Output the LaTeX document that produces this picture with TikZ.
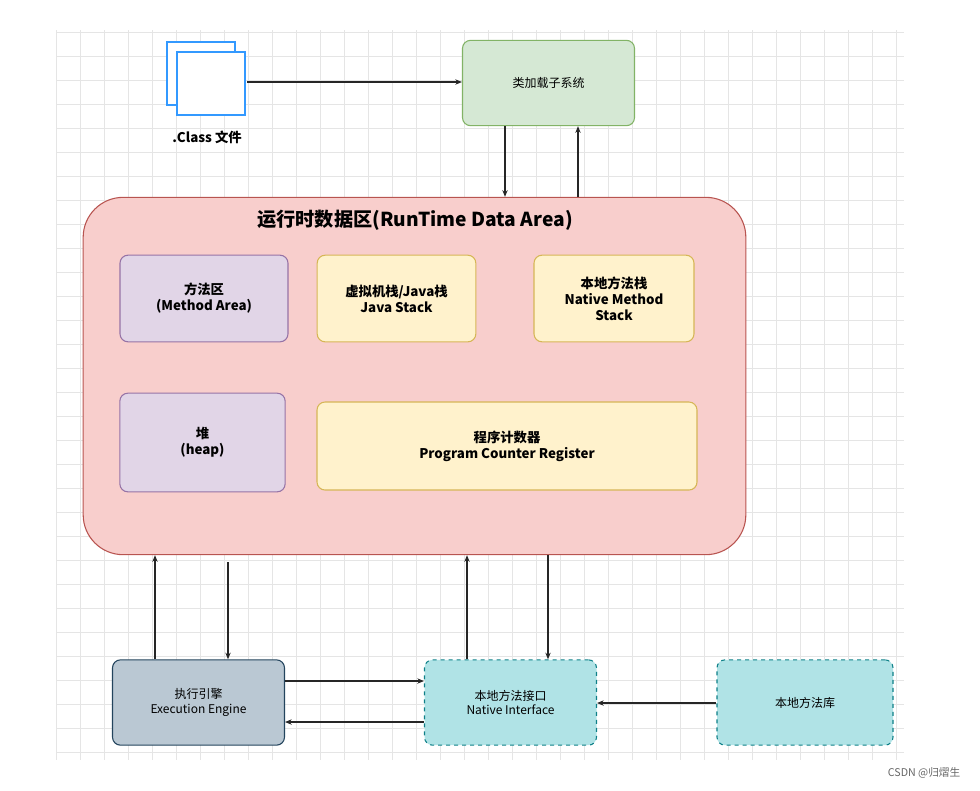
\documentclass[tikz,border=0pt]{standalone}
\usepackage{fontspec}
\setmainfont{Noto Sans CJK SC}
\usetikzlibrary{arrows.meta}
\definecolor{gfill}{HTML}{D5E8D4}\definecolor{gline}{HTML}{82B366}
\definecolor{rfill}{HTML}{F8CECC}\definecolor{rline}{HTML}{B85450}
\definecolor{pfill}{HTML}{E1D5E7}\definecolor{pline}{HTML}{9673A6}
\definecolor{yfill}{HTML}{FFF2CC}\definecolor{yline}{HTML}{D6B656}
\definecolor{bfill}{HTML}{BAC8D3}\definecolor{bline}{HTML}{23445D}
\definecolor{cfill}{HTML}{B0E3E6}\definecolor{cline}{HTML}{0E8088}
\definecolor{iconblue}{HTML}{3399FF}
\begin{document}
\begin{tikzpicture}[x=0.75pt,y=-0.75pt,
  box/.style={rounded corners=6pt,line width=0.8pt,align=center,font=\small},
  inner/.style={box,font=\normalsize\bfseries},
  arr/.style={-{Stealth[length=5pt,width=4pt]},line width=0.8pt,black!85}]
\useasboundingbox (0,0) rectangle (980,790);
\foreach \gx in {56,80,...,904} \draw[black!10] (\gx,30) -- (\gx,760);
\foreach \gy in {32,56,...,760} \draw[black!10] (56,\gy) -- (904,\gy);
% class file icon
\draw[iconblue,line width=1.6pt,fill=white] (167,42) rectangle (235,105);
\draw[iconblue,line width=1.6pt,fill=white] (177,52) rectangle (245,115);
\coordinate (icon) at (247,82);
\node[font=\normalsize\bfseries] (cls) at (207,137) {.Class 文件};
\node[box,fill=gfill,draw=gline] (load) at (548.5,83) [minimum width=129pt,minimum height=64pt] {类加载子系统};
\node[draw=rline,fill=rfill,rounded corners=30pt,line width=0.8pt,minimum width=497pt,minimum height=268pt] (rt) at (414.5,376) {};
\node[font=\Large\bfseries] (rtt) at (415,220) {运行时数据区(RunTime Data Area)};
\node[inner,fill=pfill,draw=pline,minimum width=126pt,minimum height=65pt] (ma) at (204,298.5) {方法区\\(Method Area)};
\node[inner,fill=yfill,draw=yline,minimum width=119pt,minimum height=65pt] (js) at (396.5,298.5) {虚拟机栈/Java栈\\Java Stack};
\node[inner,fill=yfill,draw=yline,minimum width=120pt,minimum height=65pt] (ns) at (614,298.5) {本地方法栈\\Native Method\\Stack};
\node[inner,fill=pfill,draw=pline,minimum width=124pt,minimum height=74pt] (heap) at (202.5,442.5) {堆\\(heap)};
\node[inner,fill=yfill,draw=yline,minimum width=285pt,minimum height=66pt] (pc) at (507,446) {程序计数器\\Program Counter Register};
\node[box,fill=bfill,draw=bline,minimum width=129pt,minimum height=64pt] (ee) at (198.5,702.5) {执行引擎\\Execution Engine};
\node[box,dashed,fill=cfill,draw=cline,minimum width=129pt,minimum height=64pt] (ni) at (510.5,702.5) {本地方法接口\\Native Interface};
\node[box,dashed,fill=cfill,draw=cline,minimum width=132pt,minimum height=64pt] (nl) at (805,702.5) {本地方法库};
\node[font=\footnotesize,text=black!60,anchor=east] (mark) at (965,773) {CSDN @归熠生};
% connectors
\draw[arr] (icon) -- (load.west |- icon);
\draw[arr] (load.south -| 505,0) -- (rt.north -| 505,0);
\draw[arr] (rt.north -| 578,0) -- (load.south -| 578,0);
\draw[arr] (ee.north -| 155,0) -- (rt.south -| 155,0);
\draw[arr] (228,562) -- (ee.north -| 228,0);
\draw[arr] (ni.north -| 467,0) -- (rt.south -| 467,0);
\draw[arr] (rt.south -| 548,0) -- (ni.north -| 548,0);
\draw[arr] (ee.east |- 0,681) -- (ni.west |- 0,681);
\draw[arr] (ni.west |- 0,722) -- (ee.east |- 0,722);
\draw[arr] (nl.west |- 0,703) -- (ni.east |- 0,703);
\end{tikzpicture}
\end{document}
